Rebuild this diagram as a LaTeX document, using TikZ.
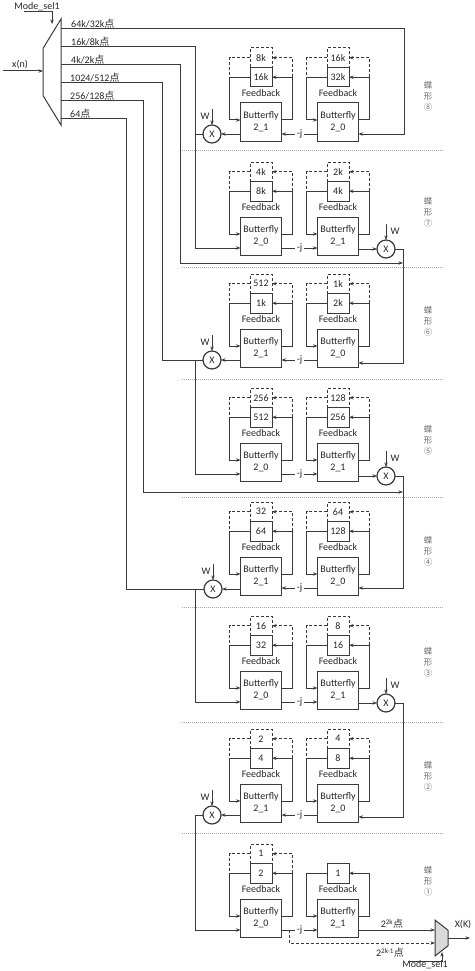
\documentclass[tikz,border=0pt]{standalone}
\usepackage{fontspec}
\setmainfont{Carlito}
\newfontfamily\cjk{Noto Sans CJK SC}
\usepackage{xcolor}
\definecolor{cLine}{HTML}{3A3A3A}
\definecolor{cSep}{HTML}{A6A6A6}
\definecolor{cSide}{HTML}{6E6E6E}
\usetikzlibrary{positioning,arrows.meta,shapes.geometric}
\tikzset{
  txt/.style={font=\fontsize{10}{12}\selectfont,text=black!85,inner sep=0pt},
  node-bf/.style={draw=cLine,line width=1pt,outer sep=0pt,minimum width=41pt,minimum height=38pt,
    align=center,txt,text=black!85},
  node-mem/.style={draw=cLine,line width=1pt,outer sep=0pt,minimum width=22pt,minimum height=19.5pt,txt},
  node-memd/.style={node-mem,densely dashed},
  node-mul/.style={draw=cLine,line width=1.2pt,circle,minimum size=18pt,outer sep=0pt,txt},
  node-mux/.style={draw=cLine,line width=1pt,trapezium,trapezium stretches=true,outer sep=0pt,inner sep=1pt},
  node-side/.style={font=\fontsize{8.5}{11}\selectfont\cjk,text=cSide,align=center,inner sep=0pt},
  node-pt/.style={txt,anchor=south west,inner ysep=1pt},
  wire/.style={line width=1pt,draw=cLine},
  wire-dash/.style={line width=1pt,densely dashed,draw=cLine},
  arrow/.style={wire,-{Stealth[length=1.6mm]}},
  arrow-back/.style={wire,{Stealth[length=1.6mm]}-},
  arrow-dash/.style={wire-dash,-{Stealth[length=1.6mm]}},
  sep/.style={line width=1pt,densely dotted,draw=cSep},
}
% feedback round a butterfly: solid part, then the dashed part to the upper register
\newcommand{\fbsolid}[1]{
  \coordinate (inn#1) at ([yshift=2pt]bf#1.west);
  \coordinate (out#1) at ([yshift=2pt]bf#1.east);
  \coordinate (cl#1) at ([xshift=-11pt]inn#1);
  \coordinate (cr#1) at ([xshift=11pt]out#1);
  \draw[arrow] (low#1.west) -| (cl#1) -- (inn#1);
  \draw[arrow] (out#1) -- (cr#1) |- (low#1.east);
}
\newcommand{\fbdash}[1]{
  \draw[wire-dash] (top#1.west) -| (cl#1 |- low#1.west);
  \draw[arrow-dash] (cr#1 |- low#1.east) |- (top#1.east);
}

\begin{document}
\begin{tikzpicture}[x=1pt,y=-1pt]
  \useasboundingbox (0,0) rectangle (474,971);

  \foreach \ysep in {150,267,379,497,607,722,833}
    \draw[sep] (182,\ysep) -- (443,\ysep);

  % the eight stages, from the top
  \foreach \st/\ty/\ltop/\llow/\lnum/\rlow/\rnum/\jst/\sidey/\sidenum in {
      8/48/8k/16k/1/32k/0/arrow-back/96/⑧,
      7/162/4k/8k/0/4k/1/arrow/212/⑦,
      6/274/512/1k/1/2k/0/arrow-back/321/⑥,
      5/388/256/512/0/256/1/arrow/440/⑤,
      4/502/32/64/1/128/0/arrow-back/551/④,
      3/616/16/32/0/16/1/arrow/662/③,
      2/729/2/4/1/8/0/arrow-back/776/②,
      1/844/1/2/0/1/1/arrow/881/①}{
    \node[node-bf] (bfa\st) at (261,{\ty+74}) {Butterfly\\2\_\lnum};
    \node[node-bf,right=36pt of bfa\st] (bfb\st) {Butterfly\\2\_\rnum};
    \node[node-mem,above=16pt of bfa\st] (lowa\st) {\llow};
    \node[node-memd,above=0pt of lowa\st] (topa\st) {\ltop};
    \node[node-mem,above=16pt of bfb\st] (lowb\st) {\rlow};
    \node[txt,below=2.5pt of lowa\st] (fba\st) {Feedback};
    \node[txt,below=2.5pt of lowb\st] (fbb\st) {Feedback};
    \node[node-side] (side\st) at (428,\sidey) {蝶\\形\\\sidenum};
    \coordinate (row\st) at (300,{\ty+86});
    \draw[\jst] (bfa\st.east |- row\st) -- node[txt,fill=white,inner xsep=1.5pt] (j\st) {-j} (bfb\st.west |- row\st);
    \fbsolid{a\st}
    \fbsolid{b\st}
    \fbdash{a\st}
  }
  \foreach \st/\rtop in {8/16k,7/2k,6/1k,5/128,4/64,3/8,2/4}{
    \node[node-memd,above=0pt of lowb\st] (topb\st) {\rtop};
    \fbdash{b\st}
  }

  % multipliers
  \foreach \st/\mx/\my/\wdx in {8/212/134/-7,7/386/249/9,6/212/360/-7,5/386/476/9,
      4/213/589/-7,3/386/703/9,2/212/815/-7}{
    \node[node-mul] (mul\st) at (\mx,\my) {X};
    \node[txt] (w\st) at ([xshift=\wdx pt,yshift=18pt]mul\st) {W};
    \draw[arrow] ([yshift=16pt]mul\st.north) -- (mul\st.north);
  }
  \foreach \st in {8,6,4,2}
    \draw[arrow] (bfa\st.west |- mul\st) -- (mul\st);
  \foreach \st in {7,5,3}
    \draw[arrow] (bfb\st.east |- mul\st) -- (mul\st);

  % input selector and its branches
  \node[node-mux,minimum width=106pt,minimum height=18pt,trapezium left angle=58,
    trapezium right angle=58,shape border rotate=90] (muxa) at (52,72) {};
  \node[txt] (mode) at (37,7) {Mode\_sel1};
  \coordinate (model) at (24,12);
  \coordinate (moder) at (52,24);
  \draw[arrow] (model) -| (moder);
  \node[txt] (xn) at (20,65) {x(n)};
  \coordinate (xin) at (3,71);
  \draw[arrow] (xin) -- (muxa.west |- xin);
  \node[node-pt] (lb1) at (71,29) {64k/32k{\cjk 点}};
  \node[node-pt] (lb2) at (71,47) {16k/8k{\cjk 点}};
  \node[node-pt] (lb3) at (71,65) {4k/2k{\cjk 点}};
  \node[node-pt] (lb4) at (70,83) {1024/512{\cjk 点}};
  \node[node-pt] (lb5) at (70,101) {256/128{\cjk 点}};
  \node[node-pt] (lb6) at (70,119) {64{\cjk 点}};

  \coordinate (c1) at (404,134);
  \coordinate (c2) at (195,248);
  \coordinate (c3) at (180,263);
  \coordinate (c3e) at (403,263);
  \coordinate (c4) at (162,360);
  \coordinate (c5) at (195,474);
  \coordinate (c6) at (403,363);
  \coordinate (c7) at (403,588);
  \coordinate (c8) at (143,492);
  \coordinate (c8e) at (403,492);
  \coordinate (c9) at (126,589);
  \coordinate (c10) at (195,702);
  \coordinate (c11) at (403,817);
  \coordinate (c12) at (195,930);

  \draw[arrow] (muxa.east |- lb1.south) -| (c1) -- (bfb8.east |- c1);
  \draw[arrow] (muxa.east |- lb2.south) -| (c2) -- (bfa7.west |- c2);
  \draw[wire] (mul8) -- (mul8 -| c2);
  \draw[arrow] (muxa.east |- lb3.south) -| (c3) -- (c3e);
  \draw[arrow] (mul7) -| (c6) -- (bfb6.east |- c6);
  \draw[wire] (muxa.east |- lb4.south) -| (c4) -- (mul6);
  \draw[arrow] (c5 |- c4) -- (c5) -- (bfa5.west |- c5);
  \draw[arrow] (mul5) -| (c7) -- (bfb4.east |- c7);
  \draw[arrow] (muxa.east |- lb5.south) -| (c8) -- (c8e);
  \draw[wire] (muxa.east |- lb6.south) -| (c9) -- (mul4);
  \draw[arrow] (c10 |- c9) -- (c10) -- (bfa3.west |- c10);
  \draw[arrow] (mul3) -| (c11) -- (bfb2.east |- c11);
  \draw[arrow] (mul2) -| (c12) -- (bfa1.west |- c12);

  % output selector
  \node[node-mux,fill=black!15,minimum width=36pt,minimum height=13pt,trapezium left angle=57,
    trapezium right angle=57,shape border rotate=270] (muxb) at (441.5,938) {};
  \coordinate (dash) at (289,930);
  \coordinate (dashe) at (400,943);
  \draw[arrow] (bfb1.east |- row1) -- (muxb.west |- row1);
  \draw[arrow-dash] (dash) |- (muxb.west |- dashe);
  \node[txt] (lb2k) at (392,924) {2\textsuperscript{2k}{\cjk 点}};
  \node[txt] (lb2kb) at (390,953) {2\textsuperscript{2k-1}{\cjk 点}};
  \node[txt] (xk) at (463,925) {X(K)};
  \coordinate (xout) at (470,938);
  \draw[arrow] (muxb.east) -- (xout);
  \node[txt] (modeb) at (425,965) {Mode\_sel1};
  \coordinate (modebl) at (408,961);
  \coordinate (modebr) at (442,952);
  \draw[arrow] (modebl) -| (modebr);
\end{tikzpicture}
\end{document}
